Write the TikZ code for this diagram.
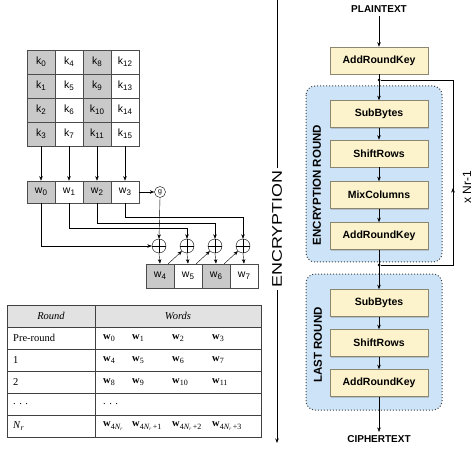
\documentclass[tikz,border=0pt]{standalone}
\usepackage{fontspec}
\usepackage{graphicx}
\setmainfont{Liberation Serif}
\setsansfont{Liberation Sans}
\usetikzlibrary{arrows.meta,shadows}
\definecolor{keygray}{HTML}{C9C9C9}
\definecolor{boxyellow}{HTML}{FCF3CC}
\definecolor{boxedge}{HTML}{8C8670}
\definecolor{roundblue}{HTML}{CDE4F8}
\definecolor{tablehead}{HTML}{E2E2E2}
\newcommand{\subw}[2]{#1\raisebox{-0.4ex}{\footnotesize #2}}
\newcommand{\wsub}[1]{\textbf{w}\raisebox{-0.5ex}{\footnotesize #1}}
\newcommand{\nrsub}{\textit{N}\raisebox{-0.3ex}{\tiny\textit{r}}}
\begin{document}
\begin{tikzpicture}[x=1pt,y=-1pt,>={Stealth[length=4.5pt,width=3.5pt]},
    keycell/.style={draw=black!70, line width=0.7pt, minimum width=28pt, minimum height=24pt,
      inner sep=0pt, font=\sffamily\fontsize{10.5}{11}\selectfont},
    wordcell/.style={keycell, minimum height=22pt},
    xorc/.style={draw, circle, minimum size=14pt, inner sep=0pt},
    stepbox/.style={draw=boxedge, fill=boxyellow, line width=0.6pt, minimum width=98pt,
      minimum height=27pt, font=\sffamily\bfseries\fontsize{10.5}{12}\selectfont,
      drop shadow={shadow xshift=1.2pt, shadow yshift=-1.2pt, opacity=0.35}},
    roundbox/.style={draw=black!75, dotted, line width=1pt, fill=roundblue, rounded corners=9pt},
    roundlabel/.style={rotate=90, font=\sffamily\bfseries\fontsize{11.5}{12}\selectfont},
    endtext/.style={font=\sffamily\bfseries\fontsize{10}{12}\selectfont},
    tabtext/.style={font=\fontsize{10.5}{12}\selectfont, inner sep=0pt},
    dot/.style={circle, fill, inner sep=0pt, minimum size=3pt}]
  \useasboundingbox (0,0) rectangle (474,449);

  % Key matrix
  \foreach \c/\f in {0/keygray,1/white,2/keygray,3/white}
    \foreach \r in {0,...,3} {
      \pgfmathtruncatemacro\n{4*\c+\r}
      \node[keycell, fill=\f] (k\c\r) at ({41+28*\c},{62+24*\r}) {\subw{k}{\n}};
    }

  % First words
  \foreach \c/\f in {0/keygray,1/white,2/keygray,3/white} {
    \node[wordcell, fill=\f] (w\c) at ({41+28*\c},192) {\subw{w}{\c}};
    \draw[->] (k\c3.south) -- (w\c.north);
  }
  \node[draw, circle, minimum size=11pt, inner sep=0pt, font=\sffamily\fontsize{7}{7}\selectfont] (g) at (160,192) {g};
  \draw[->] (w3.east) -- (g.west);

  % XOR and next words
  \foreach \i/\f [evaluate=\i as \j using int(\i+4)] in {0/keygray,1/white,2/keygray,3/white} {
    \node[xorc] (x\i) at ({159+28*\i},246) {};
    \draw (x\i.north) -- (x\i.south) (x\i.west) -- (x\i.east);
    \node[keycell, fill=\f] (w\j) at ({160+28*\i},276) {\subw{w}{\j}};
    \draw[->] (x\i.south) -- (w\j.north);
  }
  \draw[->] (g.south) -- (x0.north);
  \draw[->] (w0.south) |- (x0.west);
  \draw[->] (w1.south) -- ++(0,25) -| (x1.north);
  \draw[->] (w2.south) -- ++(0,20) -| (x2.north);
  \draw[->] (w3.south) -- ++(0,14) -| (x3.north);
  \draw[->] ([xshift=-6pt]w4.north east) -- (x1.south west);
  \draw[->] ([xshift=-6pt]w5.north east) -- (x2.south west);
  \draw[->] ([xshift=-6pt]w6.north east) -- (x3.south west);

  % Table
  \fill[tablehead] (7,305) rectangle (261,327);
  \draw[black!75, line width=0.9pt] (7,305) rectangle (261,437);
  \foreach \y in {327,349,371,393,415}
    \draw[black!75, line width=0.9pt] (7,\y) -- (261,\y);
  \draw[black!75, line width=0.9pt] (95,305) -- (95,437);
  \node[tabtext, font=\fontsize{10.5}{12}\selectfont\itshape] (hround) at (51,316) {Round};
  \node[tabtext, font=\fontsize{10.5}{12}\selectfont\itshape] (hwords) at (178,316) {Words};
  \node[tabtext, anchor=west] (r0) at (13,338) {Pre-round};
  \node[tabtext, anchor=west] (r1) at (13,360) {1};
  \node[tabtext, anchor=west] (r2) at (13,382) {2};
  \node[tabtext, anchor=west] (r3) at (13,404) {. . .};
  \node[tabtext, anchor=west] (r4) at (13,426) {\textit{N}\raisebox{-0.5ex}{\footnotesize\textit{r}}};
  \foreach \x [count=\i from 0] in {103,132,172,212} {
    \pgfmathtruncatemacro\a{\i}
    \pgfmathtruncatemacro\b{\i+4}
    \pgfmathtruncatemacro\d{\i+8}
    \node[tabtext, anchor=west] (p\i) at (\x,338) {\wsub{\a}};
    \node[tabtext, anchor=west] (q\i) at (\x,360) {\wsub{\b}};
    \node[tabtext, anchor=west] (s\i) at (\x,382) {\wsub{\d}};
  }
  \node[tabtext, anchor=west] (t0) at (103,404) {. . .};
  \node[tabtext, anchor=west] (n0) at (103,426) {\wsub{4\nrsub}};
  \node[tabtext, anchor=west] (n1) at (132,426) {\wsub{4\nrsub\,+1}};
  \node[tabtext, anchor=west] (n2) at (172,426) {\wsub{4\nrsub\,+2}};
  \node[tabtext, anchor=west] (n3) at (212,426) {\wsub{4\nrsub\,+3}};

  % Encryption axis
  \node[rotate=90, inner sep=2pt, font=\sffamily\fontsize{14}{14}\selectfont] (enc) at (277,229) {\scalebox{1.28}[1]{ENCRYPTION}};
  \coordinate (enctop) at (277,0);
  \coordinate (encbot) at (277,443);
  \draw[line width=0.8pt] (enctop) -- (enc.east);
  \draw[line width=0.8pt, ->] (enc.west) -- (encbot);

  % Rounds
  \draw[roundbox] (306,86) rectangle (442,262);
  \draw[roundbox] (306,274) rectangle (442,410);
  \node[roundlabel] (enclab) at (317,185) {ENCRYPTION ROUND};
  \node[roundlabel] (lastlab) at (318,345) {LAST ROUND};

  \node[endtext] (plain) at (379,9) {PLAINTEXT};
  \node[stepbox] (ark0) at (379,60.5) {AddRoundKey};
  \node[stepbox] (sb1) at (379,114) {SubBytes};
  \node[stepbox] (sr1) at (379,153.5) {ShiftRows};
  \node[stepbox] (mc1) at (379,195) {MixColumns};
  \node[stepbox] (ark1) at (379,236) {AddRoundKey};
  \node[stepbox] (sb2) at (379,303) {SubBytes};
  \node[stepbox] (sr2) at (379,343) {ShiftRows};
  \node[stepbox] (ark2) at (379,383) {AddRoundKey};
  \node[endtext] (cipher) at (379,439) {CIPHERTEXT};

  \draw[->] (plain.south) -- (ark0.north);
  \draw[->] (ark0.south) -- (sb1.north);
  \draw[->] (sb1.south) -- (sr1.north);
  \draw[->] (sr1.south) -- (mc1.north);
  \draw[->] (mc1.south) -- (ark1.north);
  \draw[->] (ark1.south) -- (sb2.north);
  \draw[->] (sb2.south) -- (sr2.north);
  \draw[->] (sr2.south) -- (ark2.north);
  \draw[->] (ark2.south) -- (cipher.north);

  % Loop back
  \node[dot] (split) at (379,80) {};
  \node[dot] (merge) at (379,265) {};
  \coordinate (loopa) at (453,80);
  \coordinate (loopb) at (453,265);
  \draw (split) -- (loopa) -- (loopb) -- (merge);
  \draw[->] (loopb) -- (453,188);
  \node[rotate=90, font=\sffamily\fontsize{12}{12}\selectfont] (times) at (467,187) {x Nr-1};
\end{tikzpicture}
\end{document}
